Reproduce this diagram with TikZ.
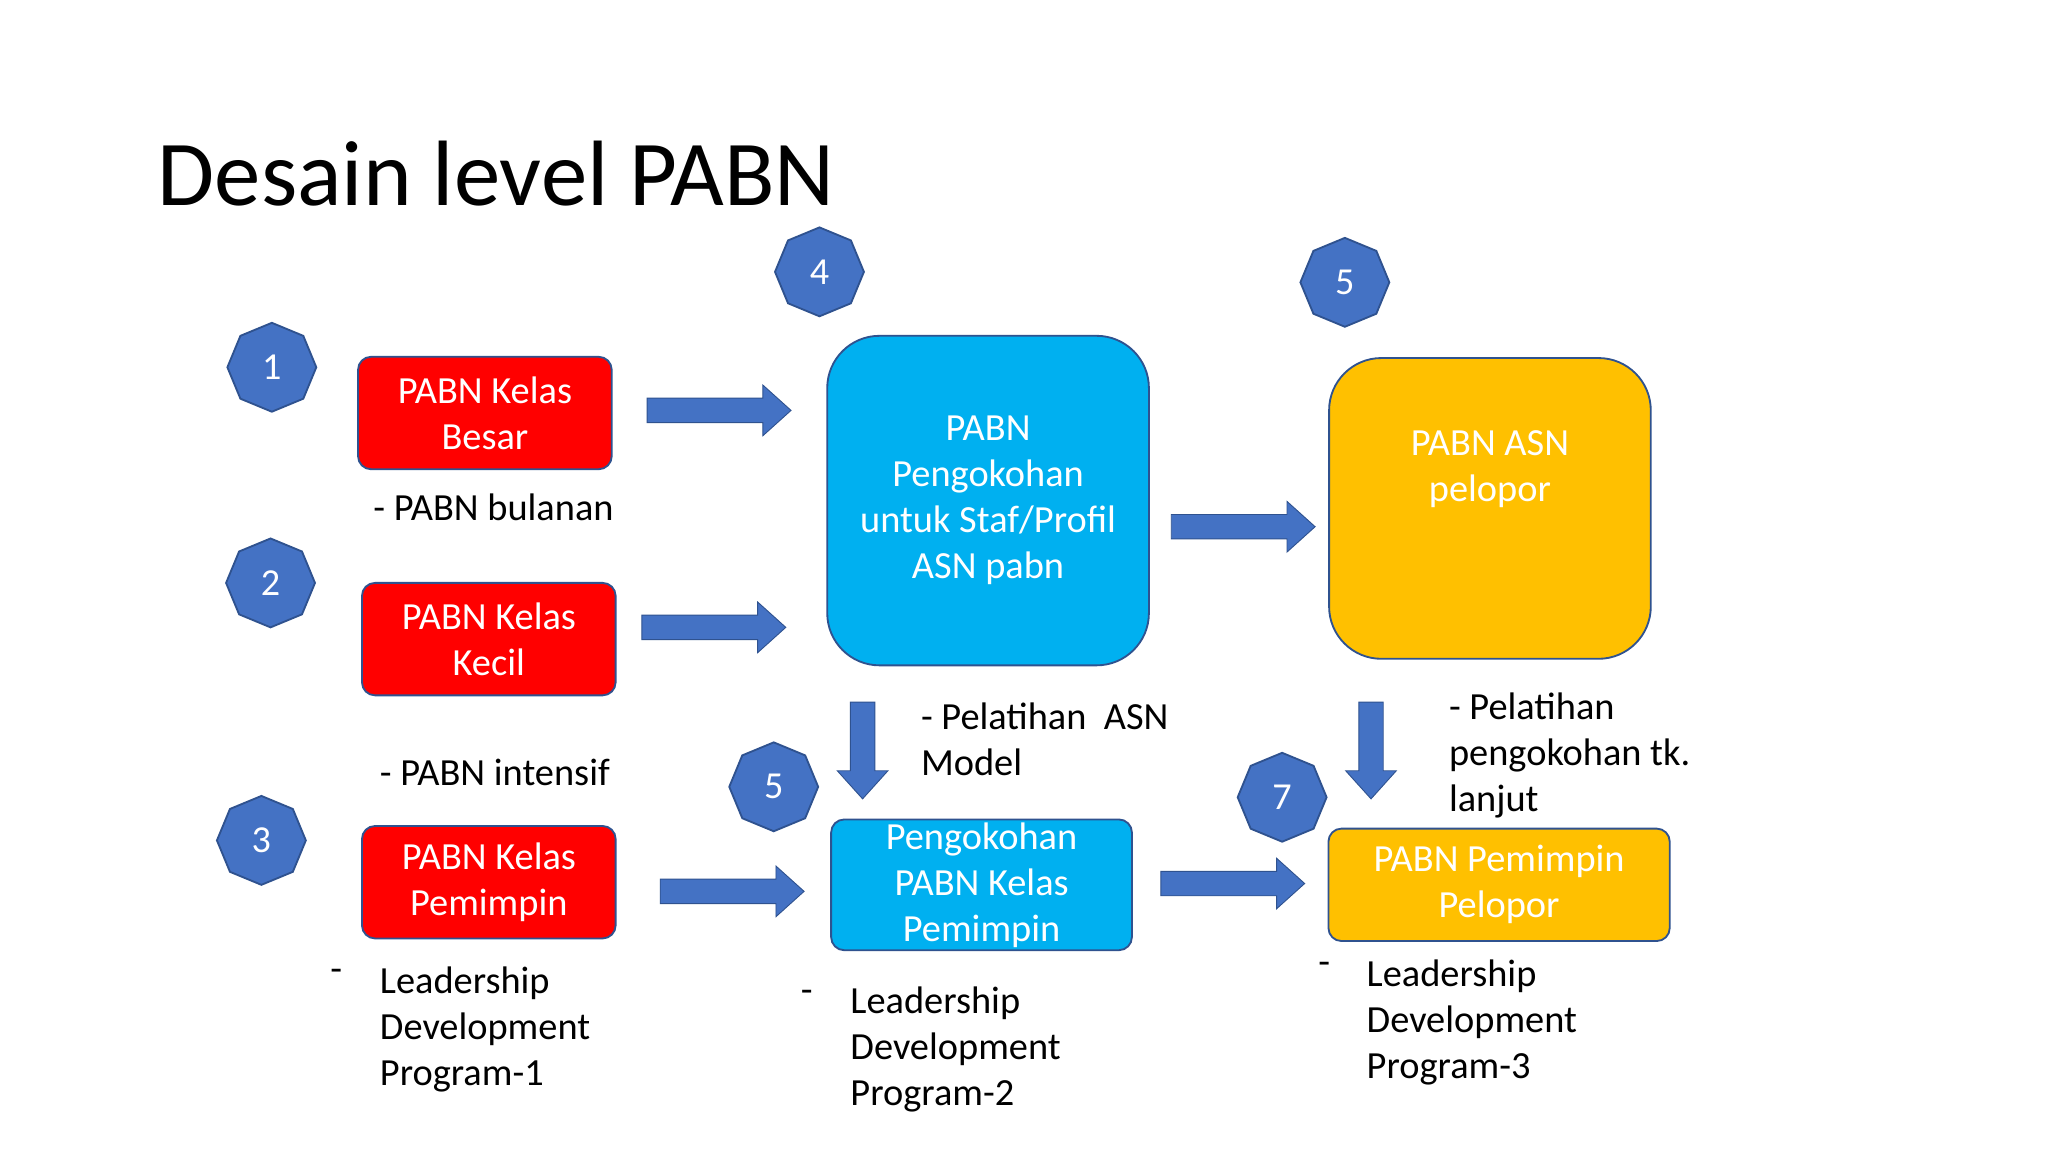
\documentclass[tikz,border=0pt]{standalone}
\usepackage{fontspec}
\setmainfont{Carlito}
\usetikzlibrary{shapes.geometric,shapes.arrows}
\definecolor{octblue}{HTML}{4472C4}
\definecolor{boxred}{HTML}{FF0000}
\definecolor{boxcyan}{HTML}{00B0F0}
\definecolor{boxgold}{HTML}{FFC000}
\definecolor{edge}{HTML}{2F528F}
\begin{document}
\begin{tikzpicture}[x=0.01cm,y=-0.01cm,
  txt/.style={font=\fontsize{8.35}{10}\selectfont, inner sep=0, align=left},
  num/.style={regular polygon, regular polygon sides=8, minimum size=0.68cm, inner sep=0,
    fill=octblue, draw=edge, thin, text=white, font=\fontsize{8.3}{10}\selectfont, shape border rotate=22.5},
  box/.style={draw=edge, thin, text=white, align=center, inner sep=0,
    font=\fontsize{8.35}{10}\selectfont, rounded corners=0.1cm},
  rarr/.style={single arrow, fill=octblue, draw=edge, very thin, inner sep=0.09cm,
    single arrow head extend=0.1cm, single arrow tip angle=84, minimum height=1.1cm},
  darr/.style={rarr, shape border rotate=270, minimum height=0.74cm}]
\useasboundingbox (0,0) rectangle (1567,881);
\fill[white] (0,0) rectangle (1567,881);

% title
\node[anchor=west, inner sep=0, font=\fontsize{20.2}{24}\selectfont] (title) at (120,133) {Desain level PABN};

% numbers
\node[num] (n1) at (208,281) {1};
\node[num] (n2) at (207,446) {2};
\node[num] (n3) at (200,643) {3};
\node[num] (n4) at (627,208) {4};
\node[num] (n5a) at (1029,216) {5};
\node[num] (n5b) at (592,602) {5};
\node[num] (n7) at (981,610) {7};

% boxes
\node[box, fill=boxred, minimum width=1.94cm, minimum height=0.86cm] (besar) at (371,316) {PABN Kelas\\Besar};
\node[box, fill=boxred, minimum width=1.94cm, minimum height=0.86cm] (kecil) at (374,489) {PABN Kelas\\Kecil};
\node[box, fill=boxred, minimum width=1.94cm, minimum height=0.86cm] (pemimpin) at (374,675) {PABN Kelas\\Pemimpin};
\node[box, fill=boxcyan, rounded corners=0.4cm, minimum width=2.46cm, minimum height=2.52cm] (staf) at (756,383) {PABN\\Pengokohan\\untuk Staf/Profil\\ASN pabn};
\node[box, fill=boxgold, rounded corners=0.4cm, minimum width=2.46cm, minimum height=2.30cm] (asn) at (1140,389) {PABN ASN\\pelopor\\[0.3cm]};
\node[box, fill=boxcyan, minimum width=2.30cm, minimum height=1.00cm] (pkp) at (751,677) {Pengokohan\\PABN Kelas\\Pemimpin};
\node[box, fill=boxgold, minimum width=2.61cm, minimum height=0.86cm] (ppp) at (1147,677) {PABN Pemimpin\\Pelopor};

% block arrows
\node[rarr] (a1) at (545,314) {};
\node[rarr] (a2) at (541,480) {};
\node[rarr] (a3) at (946,403) {};
\node[rarr] (a4) at (555,682) {};
\node[rarr] (a5) at (938,676) {};
\node[darr] (d1) at (660,569) {};
\node[darr] (d2) at (1049,569) {};

% notes
\node[txt, anchor=west] (t1) at (285,388) {- PABN bulanan};
\node[txt, anchor=west] (t2) at (290,591) {- PABN intensif};
\node[txt, anchor=west] (t3) at (704,566) {- Pelatihan\ \ ASN\\Model};
\node[txt, anchor=west] (t4) at (1108,578) {- Pelatihan\\pengokohan tk.\\lanjut};
\node[txt, anchor=west] (d1t) at (252,746) {-};
\node[txt, anchor=west] (l1) at (290,788) {Leadership\\Development\\Program-1};
\node[txt, anchor=west] (d2t) at (612,762) {-};
\node[txt, anchor=west] (l2) at (650,803) {Leadership\\Development\\Program-2};
\node[txt, anchor=west] (d3t) at (1008,741) {-};
\node[txt, anchor=west] (l3) at (1045,782) {Leadership\\Development\\Program-3};
\end{tikzpicture}
\end{document}
